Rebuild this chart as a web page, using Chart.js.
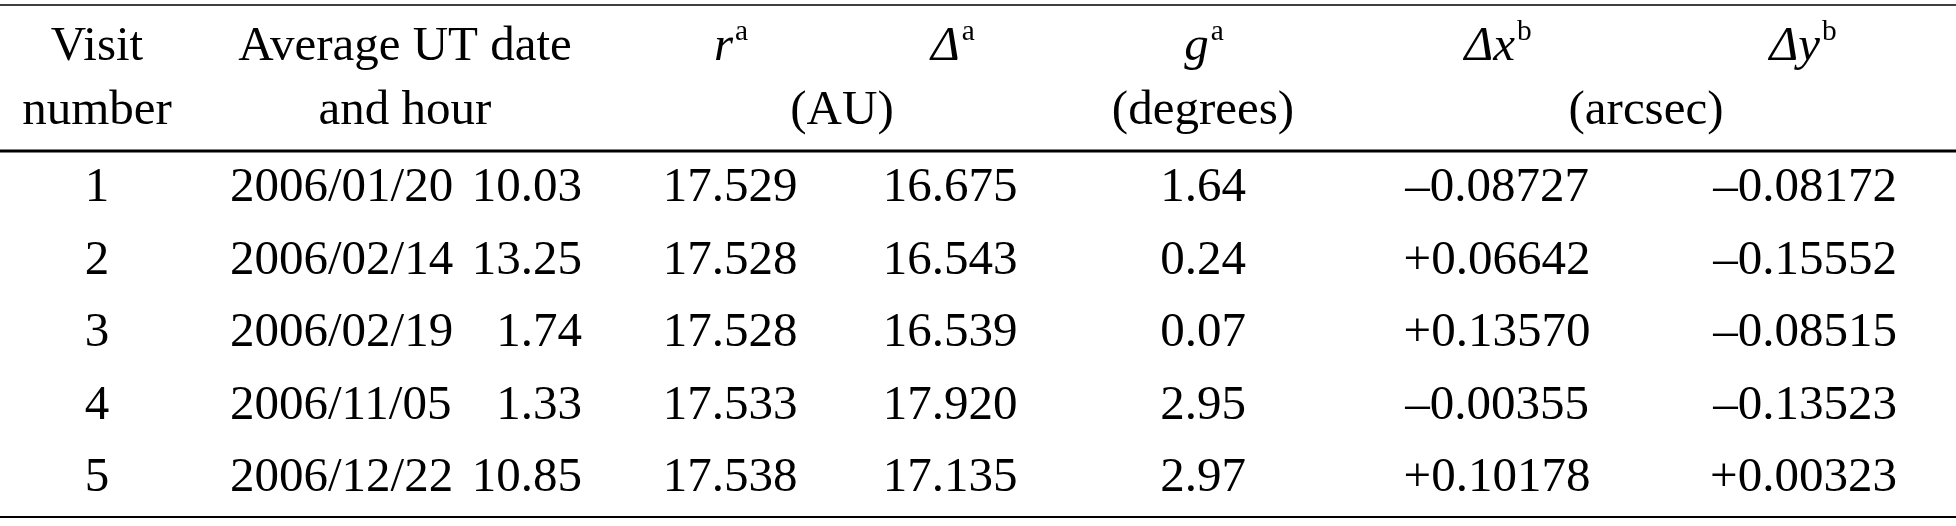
<!DOCTYPE html>
<html>
<head>
<meta charset="utf-8">
<script src="https://cdn.jsdelivr.net/npm/chart.js@4/dist/chart.umd.min.js"></script>
<style>
  html, body { margin: 0; padding: 0; background: #fff; }
  #wrap { width: 1956px; height: 526px; }
</style>
</head>
<body>
<div id="wrap"><canvas id="tabla"></canvas></div>
<script>
// Datos de la tabla
const visits = ['1', '2', '3', '4', '5'];
const dates = ['2006/01/20', '2006/02/14', '2006/02/19', '2006/11/05', '2006/12/22'];
const hours = ['10.03', '13.25', '1.74', '1.33', '10.85'];
const rAU = ['17.529', '17.528', '17.528', '17.533', '17.538'];
const deltaAU = ['16.675', '16.543', '16.539', '17.920', '17.135'];
const gDeg = ['1.64', '0.24', '0.07', '2.95', '2.97'];
const dxArcsec = ['–0.08727', '+0.06642', '+0.13570', '–0.00355', '+0.10178'];
const dyArcsec = ['–0.08172', '–0.15552', '–0.08515', '–0.13523', '+0.00323'];

// geometria (coordenadas del lienzo en unidades de escala)
const W = 1956, H = 526;
const FONT = '"Liberation Serif", "Times New Roman", serif';
const SIZE = 49;
const rowY = [188, 261, 333, 406, 478];
const head1 = 47, head2 = 111;

const rules = [
  { y: 5, w: 1.5 },
  { y: 151, w: 3 },
  { y: 517, w: 2 }
];

const tablaPlugin = {
  id: 'tabla',
  afterDraw(chart) {
    const { ctx, scales: { x, y } } = chart;
    const px = v => x.getPixelForValue(v);
    const py = v => y.getPixelForValue(v);
    ctx.save();
    ctx.fillStyle = '#000';
    ctx.textBaseline = 'middle';

    const txt = (s, cx, cy, align = 'center', style = '') => {
      ctx.font = `${style} ${SIZE}px ${FONT}`;
      ctx.textAlign = align;
      ctx.fillText(s, px(cx), py(cy));
    };
    // simbolo en cursiva + superindice
    const sup = (sym, mark, cx, cy) => {
      ctx.font = `italic ${SIZE}px ${FONT}`;
      const w1 = ctx.measureText(sym).width;
      ctx.font = `${SIZE * 0.6}px ${FONT}`;
      const w2 = ctx.measureText(mark).width;
      const left = px(cx) - (w1 + w2) / 2;
      ctx.textAlign = 'left';
      ctx.font = `italic ${SIZE}px ${FONT}`;
      ctx.fillText(sym, left, py(cy));
      ctx.font = `${SIZE * 0.6}px ${FONT}`;
      ctx.fillText(mark, left + w1 + 2, py(cy) - SIZE * 0.3);
    };

    // encabezados
    txt('Visit', 97, head1);
    txt('number', 97, head2);
    txt('Average UT date', 405, head1);
    txt('and hour', 405, head2);
    sup('r', 'a', 730, head1);
    sup('Δ', 'a', 952, head1);
    txt('(AU)', 842, head2);
    sup('g', 'a', 1203, head1);
    txt('(degrees)', 1203, head2);
    sup('Δx', 'b', 1497, head1);
    sup('Δy', 'b', 1802, head1);
    txt('(arcsec)', 1646, head2);

    // filas
    visits.forEach((v, i) => {
      const cy = rowY[i];
      txt(v, 97, cy);
      txt(dates[i], 230, cy, 'left');
      txt(hours[i], 582, cy, 'right');
      txt(rAU[i], 730, cy);
      txt(deltaAU[i], 950, cy);
      txt(gDeg[i], 1203, cy);
      txt(dxArcsec[i], 1497, cy);
      txt(dyArcsec[i], 1897, cy, 'right');
    });
    ctx.restore();
  }
};

new Chart(document.getElementById('tabla').getContext('2d'), {
  type: 'scatter',
  data: {
    datasets: rules.map(r => ({
      type: 'line',
      data: [{ x: 0, y: r.y }, { x: W, y: r.y }],
      borderColor: '#000',
      borderWidth: r.w,
      pointRadius: 0
    }))
  },
  options: {
    responsive: true,
    maintainAspectRatio: false,
    animation: false,
    layout: { padding: 0 },
    plugins: { legend: { display: false }, tooltip: { enabled: false } },
    scales: {
      x: { type: 'linear', min: 0, max: W, display: false },
      y: { type: 'linear', min: 0, max: H, reverse: true, display: false }
    }
  },
  plugins: [tablaPlugin]
});
</script>
</body>
</html>
